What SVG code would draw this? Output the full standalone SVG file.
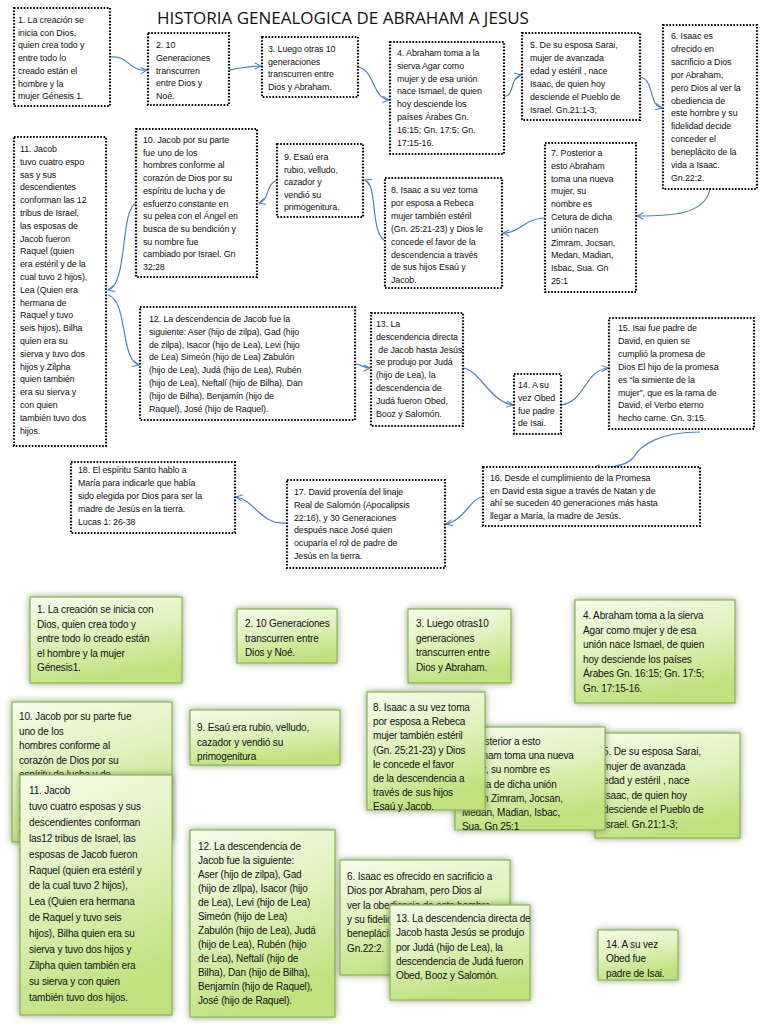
<svg xmlns="http://www.w3.org/2000/svg" width="768" height="1024" viewBox="0 0 768 1024">
<defs>
<style>
.d{fill:#fff;stroke:#000;stroke-width:2.2;stroke-dasharray:1.6 1.6}
.t{font-family:"Liberation Sans",Arial,sans-serif;font-size:8.9px;fill:#111;letter-spacing:-0.1px}
.b{font-family:"Liberation Sans",Arial,sans-serif;font-size:10px;fill:#111;letter-spacing:-0.15px}
.g{fill:url(#gr);stroke:#8db35a;stroke-width:1.2;filter:url(#sh)}
.c path{fill:none;stroke:#4f81bd;stroke-width:1.2;marker-end:url(#ar)}
</style>
<linearGradient id="gr" x1="0" y1="0" x2="0.3" y2="1">
<stop offset="0" stop-color="#f6fcea"/><stop offset="0.5" stop-color="#e0f2bd"/><stop offset="1" stop-color="#bfe27f"/>
</linearGradient>
<filter id="sh" x="-20%" y="-20%" width="140%" height="140%">
<feDropShadow dx="0" dy="0" stdDeviation="3.5" flood-color="#5f7a40" flood-opacity="0.7"/>
</filter>
<marker id="ar" viewBox="0 0 10 10" refX="9" refY="5" markerWidth="8" markerHeight="8" orient="auto-start-reverse" markerUnits="userSpaceOnUse">
<path d="M1,1 L9,5 L1,9" fill="none" stroke="#4f81bd" stroke-width="1.3"/>
</marker>
</defs>
<rect width="768" height="1024" fill="#fff"/>
<text x="343" y="24" text-anchor="middle" font-family="'Open Sans','Liberation Sans',sans-serif" font-size="17" fill="#111">HISTORIA GENEALOGICA DE ABRAHAM A JESUS</text>

<g class="c">
<path d="M110,57 C130,55 128,72 147,70"/>
<path d="M229,70 C240,68 250,66 261,66"/>
<path d="M358,67 C375,70 372,98 389,100"/>
<path d="M504,97 C515,95 510,77 521,75"/>
<path d="M640,77 C655,80 648,105 662,108"/>
<path d="M710,189 C705,215 670,216 637,216"/>
<path d="M545,218 C525,218 520,233 503,233"/>
<path d="M384,240 C370,230 378,185 365,180"/>
<path d="M277,180 C265,185 270,200 259,203"/>
<path d="M136,203 C120,210 128,285 108,290"/>
<path d="M108,295 C128,300 120,360 139,365"/>
<path d="M355,364 C362,364 362,368 370,368"/>
<path d="M463,368 C480,370 490,402 513,405"/>
<path d="M561,405 C585,402 585,370 608,368"/>
<path d="M700,432 C660,432 640,445 633,458 C625,467 605,468 593,468"/>
<path d="M483,497 C470,498 465,520 446,524"/>
<path d="M287,523 C260,525 255,500 236,497"/>
</g>

<g id="n1"><rect class="d" x="14" y="8" width="96" height="98"/><text class="t"><tspan x="18" y="23">1. La creación se</tspan><tspan x="18" dy="12.7">inicia con Dios,</tspan><tspan x="18" dy="12.7">quien crea todo y</tspan><tspan x="18" dy="12.7">entre todo lo</tspan><tspan x="18" dy="12.7">creado están el</tspan><tspan x="18" dy="12.7">hombre y la</tspan><tspan x="18" dy="12.7">mujer Génesis 1.</tspan></text></g>
<g id="n2"><rect class="d" x="148" y="33" width="81" height="72"/><text class="t"><tspan x="156" y="48">2. 10</tspan><tspan x="156" dy="12.8">Generaciones</tspan><tspan x="156" dy="12.8">transcurren</tspan><tspan x="156" dy="12.8">entre Dios y</tspan><tspan x="156" dy="12.8">Noé.</tspan></text></g>
<g id="n3"><rect class="d" x="262" y="37" width="96" height="60"/><text class="t"><tspan x="268" y="52">3. Luego otras 10</tspan><tspan x="268" dy="12.6">generaciones</tspan><tspan x="268" dy="12.6">transcurren entre</tspan><tspan x="268" dy="12.6">Dios y Abraham.</tspan></text></g>
<g id="n4"><rect class="d" x="390" y="42" width="114" height="112"/><text class="t"><tspan x="397" y="56">4. Abraham toma a la</tspan><tspan x="397" dy="12.8">sierva Agar como</tspan><tspan x="397" dy="12.8">mujer y de esa unión</tspan><tspan x="397" dy="12.8">nace Ismael, de quien</tspan><tspan x="397" dy="12.8">hoy desciende los</tspan><tspan x="397" dy="12.8">países Árabes Gn.</tspan><tspan x="397" dy="12.8">16:15; Gn. 17:5; Gn.</tspan><tspan x="397" dy="12.8">17:15-16.</tspan></text></g>
<g id="n5"><rect class="d" x="522" y="33" width="118" height="87"/><text class="t"><tspan x="530" y="48">5. De su esposa Sarai,</tspan><tspan x="530" dy="13">mujer de avanzada</tspan><tspan x="530" dy="13">edad y estéril , nace</tspan><tspan x="530" dy="13">Isaac, de quien hoy</tspan><tspan x="530" dy="13">desciende el Pueblo de</tspan><tspan x="530" dy="13">Israel. Gn.21:1-3;</tspan></text></g>
<g id="n6"><rect class="d" x="663" y="25" width="94" height="164"/><text class="t"><tspan x="671" y="39">6. Isaac es</tspan><tspan x="671" dy="12.9">ofrecido en</tspan><tspan x="671" dy="12.9">sacrificio a Dios</tspan><tspan x="671" dy="12.9">por Abraham,</tspan><tspan x="671" dy="12.9">pero Dios al ver la</tspan><tspan x="671" dy="12.9">obediencia de</tspan><tspan x="671" dy="12.9">este hombre y su</tspan><tspan x="671" dy="12.9">fidelidad decide</tspan><tspan x="671" dy="12.9">conceder el</tspan><tspan x="671" dy="12.9">beneplácito de la</tspan><tspan x="671" dy="12.9">vida a Isaac.</tspan><tspan x="671" dy="12.9">Gn.22:2.</tspan></text></g>
<g id="n7"><rect class="d" x="545" y="143" width="91" height="149"/><text class="t"><tspan x="551" y="156">7. Posterior a</tspan><tspan x="551" dy="12.8">esto Abraham</tspan><tspan x="551" dy="12.8">toma una nueva</tspan><tspan x="551" dy="12.8">mujer, su</tspan><tspan x="551" dy="12.8">nombre es</tspan><tspan x="551" dy="12.8">Cetura de dicha</tspan><tspan x="551" dy="12.8">unión nacen</tspan><tspan x="551" dy="12.8">Zimram, Jocsan,</tspan><tspan x="551" dy="12.8">Medan, Madian,</tspan><tspan x="551" dy="12.8">Isbac, Sua. Gn</tspan><tspan x="551" dy="12.8">25:1</tspan></text></g>
<g id="n8"><rect class="d" x="385" y="178" width="117" height="110"/><text class="t"><tspan x="391" y="193">8. Isaac a su vez toma</tspan><tspan x="391" dy="12.9">por esposa a Rebeca</tspan><tspan x="391" dy="12.9">mujer también estéril</tspan><tspan x="391" dy="12.9">(Gn. 25:21-23) y Dios le</tspan><tspan x="391" dy="12.9">concede el favor de la</tspan><tspan x="391" dy="12.9">descendencia a través</tspan><tspan x="391" dy="12.9">de sus hijos Esaú y</tspan><tspan x="391" dy="12.9">Jacob.</tspan></text></g>
<g id="n9"><rect class="d" x="277" y="144" width="86" height="73"/><text class="t"><tspan x="284" y="160">9. Esaú era</tspan><tspan x="284" dy="12.6">rubio, velludo,</tspan><tspan x="284" dy="12.6">cazador y</tspan><tspan x="284" dy="12.6">vendió su</tspan><tspan x="284" dy="12.6">primogenitura.</tspan></text></g>
<g id="n10"><rect class="d" x="136" y="129" width="121" height="148"/><text class="t"><tspan x="143" y="143">10. Jacob por su parte</tspan><tspan x="143" dy="12.7">fue uno de los</tspan><tspan x="143" dy="12.7">hombres conforme al</tspan><tspan x="143" dy="12.7">corazón de Dios por su</tspan><tspan x="143" dy="12.7">espíritu de lucha y de</tspan><tspan x="143" dy="12.7">esfuerzo constante en</tspan><tspan x="143" dy="12.7">su pelea con el Ángel en</tspan><tspan x="143" dy="12.7">busca de su bendición y</tspan><tspan x="143" dy="12.7">su nombre fue</tspan><tspan x="143" dy="12.7">cambiado por Israel. Gn</tspan><tspan x="143" dy="12.7">32:28</tspan></text></g>
<g id="n11"><rect class="d" x="14" y="137" width="92" height="309"/><text class="t"><tspan x="20" y="152">11. Jacob</tspan><tspan x="20" dy="12.8">tuvo cuatro espo</tspan><tspan x="20" dy="12.8">sas y sus</tspan><tspan x="20" dy="12.8">descendientes</tspan><tspan x="20" dy="12.8">conforman las 12</tspan><tspan x="20" dy="12.8">tribus de Israel,</tspan><tspan x="20" dy="12.8">las esposas de</tspan><tspan x="20" dy="12.8">Jacob fueron</tspan><tspan x="20" dy="12.8">Raquel (quien</tspan><tspan x="20" dy="12.8">era estéril y de la</tspan><tspan x="20" dy="12.8">cual tuvo 2 hijos),</tspan><tspan x="20" dy="12.8">Lea (Quien era</tspan><tspan x="20" dy="12.8">hermana de</tspan><tspan x="20" dy="12.8">Raquel y tuvo</tspan><tspan x="20" dy="12.8">seis hijos), Bilha</tspan><tspan x="20" dy="12.8">quien era su</tspan><tspan x="20" dy="12.8">sierva y tuvo dos</tspan><tspan x="20" dy="12.8">hijos y Zilpha</tspan><tspan x="20" dy="12.8">quien también</tspan><tspan x="20" dy="12.8">era su sierva y</tspan><tspan x="20" dy="12.8">con quien</tspan><tspan x="20" dy="12.8">también tuvo dos</tspan><tspan x="20" dy="12.8">hijos.</tspan></text></g>
<g id="n12"><rect class="d" x="140" y="307" width="215" height="113"/><text class="t"><tspan x="149" y="322">12. La descendencia de Jacob fue la</tspan><tspan x="149" dy="12.8">siguiente: Aser (hijo de zilpa), Gad (hijo</tspan><tspan x="149" dy="12.8">de zilpa), Isacor (hijo de Lea), Levi (hijo</tspan><tspan x="149" dy="12.8">de Lea) Simeón (hijo de Lea) Zabulón</tspan><tspan x="149" dy="12.8">(hijo de Lea), Judá (hijo de Lea), Rubén</tspan><tspan x="149" dy="12.8">(hijo de Lea), Neftalí (hijo de Bilha), Dan</tspan><tspan x="149" dy="12.8">(hijo de Bilha), Benjamín (hijo de</tspan><tspan x="149" dy="12.8">Raquel), José (hijo de Raquel).</tspan></text></g>
<g id="n13"><rect class="d" x="371" y="313" width="92" height="113"/><text class="t"><tspan x="376" y="327">13. La</tspan><tspan x="376" dy="12.8">descendencia directa</tspan><tspan x="376" dy="12.8"> de Jacob hasta Jesús</tspan><tspan x="376" dy="12.8">se produjo por Judá</tspan><tspan x="376" dy="12.8">(hijo de Lea), la</tspan><tspan x="376" dy="12.8">descendencia de</tspan><tspan x="376" dy="12.8">Judá fueron Obed,</tspan><tspan x="376" dy="12.8">Booz y Salomón.</tspan></text></g>
<g id="n14"><rect class="d" x="514" y="374" width="47" height="60"/><text class="t"><tspan x="518" y="388">14. A su</tspan><tspan x="518" dy="12.8">vez Obed</tspan><tspan x="518" dy="12.8">fue padre</tspan><tspan x="518" dy="12.8">de Isai.</tspan></text></g>
<g id="n15"><rect class="d" x="609" y="318" width="145" height="111"/><text class="t"><tspan x="618" y="331">15. Isai fue padre de</tspan><tspan x="618" dy="12.9">David, en quien se</tspan><tspan x="618" dy="12.9">cumplió la promesa de</tspan><tspan x="618" dy="12.9">Dios El hijo de la promesa</tspan><tspan x="618" dy="12.9">es “la simiente de la</tspan><tspan x="618" dy="12.9">mujer”, que es la rama de</tspan><tspan x="618" dy="12.9">David, el Verbo eterno</tspan><tspan x="618" dy="12.9">hecho carne. Gn. 3:15.</tspan></text></g>
<g id="n16"><rect class="d" x="483" y="467" width="217" height="59"/><text class="t"><tspan x="490" y="481">16. Desde el cumplimiento de la Promesa</tspan><tspan x="490" dy="12.7">en David esta sigue a través de Natan y de</tspan><tspan x="490" dy="12.7">ahí se suceden 40 generaciones más hasta</tspan><tspan x="490" dy="12.7">llegar a María, la madre de Jesús.</tspan></text></g>
<g id="n17"><rect class="d" x="287" y="480" width="158" height="88"/><text class="t"><tspan x="294" y="495">17. David provenía del linaje</tspan><tspan x="294" dy="12.8">Real de Salomón (Apocalipsis</tspan><tspan x="294" dy="12.8">22:16), y 30 Generaciones</tspan><tspan x="294" dy="12.8">después nace José quien</tspan><tspan x="294" dy="12.8">ocuparía el rol de padre de</tspan><tspan x="294" dy="12.8">Jesús en la tierra.</tspan></text></g>
<g id="n18"><rect class="d" x="71" y="462" width="164" height="71"/><text class="t"><tspan x="78" y="473">18. El espíritu Santo hablo a</tspan><tspan x="78" dy="13">María para indicarle que había</tspan><tspan x="78" dy="13">sido elegida por Dios para ser la</tspan><tspan x="78" dy="13">madre de Jesús en la tierra.</tspan><tspan x="78" dy="13">Lucas 1: 26-38</tspan></text></g>

<g id="g1"><rect class="g" x="30" y="597" width="152" height="86"/><text class="b"><tspan x="37" y="613">1. La creación se inicia con</tspan><tspan x="37" dy="14.5">Dios, quien crea todo y</tspan><tspan x="37" dy="14.5">entre todo lo creado están</tspan><tspan x="37" dy="14.5">el hombre y la mujer</tspan><tspan x="37" dy="14.5">Génesis1.</tspan></text></g>
<g id="g2"><rect class="g" x="237" y="609" width="100" height="54"/><text class="b"><tspan x="245" y="627">2. 10 Generaciones</tspan><tspan x="245" dy="14.5">transcurren entre</tspan><tspan x="245" dy="14.5">Dios y Noé.</tspan></text></g>
<g id="g3"><rect class="g" x="408" y="609" width="103" height="74"/><text class="b"><tspan x="416" y="627">3. Luego otras10</tspan><tspan x="416" dy="14.5">generaciones</tspan><tspan x="416" dy="14.5">transcurren entre</tspan><tspan x="416" dy="14.5">Dios y Abraham.</tspan></text></g>
<g id="g4"><rect class="g" x="575" y="600" width="160" height="103"/><text class="b"><tspan x="583" y="619">4. Abraham toma a la sierva</tspan><tspan x="583" dy="14.5">Agar como mujer y de esa</tspan><tspan x="583" dy="14.5">unión nace Ismael, de quien</tspan><tspan x="583" dy="14.5">hoy desciende los países</tspan><tspan x="583" dy="14.5">Árabes Gn. 16:15; Gn. 17:5;</tspan><tspan x="583" dy="14.5">Gn. 17:15-16.</tspan></text></g>
<g id="g10"><rect class="g" x="12" y="702" width="160" height="140"/><text class="b"><tspan x="19" y="720">10. Jacob por su parte fue</tspan><tspan x="19" dy="14.6">uno de los</tspan><tspan x="19" dy="14.6">hombres conforme al</tspan><tspan x="19" dy="14.6">corazón de Dios por su</tspan><tspan x="19" dy="14.6">espíritu de lucha y de</tspan><tspan x="19" dy="14.6">esfuerzo constante en su</tspan><tspan x="19" dy="14.6">pelea con el Ángel en busca</tspan><tspan x="19" dy="14.6">de su bendición y su nombre</tspan><tspan x="19" dy="14.6">fue cambiado por Israel. Gn</tspan><tspan x="19" dy="14.6">32:28</tspan></text></g>
<g id="g9"><rect class="g" x="190" y="710" width="150" height="55"/><text class="b"><tspan x="197" y="731">9. Esaú era rubio, velludo,</tspan><tspan x="197" dy="14.5">cazador y vendió su</tspan><tspan x="197" dy="14.5">primogenitura</tspan></text></g>
<g id="g5"><rect class="g" x="595" y="733" width="145" height="105"/><text class="b"><tspan x="603" y="755">5. De su esposa Sarai,</tspan><tspan x="603" dy="14.5">mujer de avanzada</tspan><tspan x="603" dy="14.5">edad y estéril , nace</tspan><tspan x="603" dy="14.5">Isaac, de quien hoy</tspan><tspan x="603" dy="14.5">desciende el Pueblo de</tspan><tspan x="603" dy="14.5">Israel. Gn.21:1-3;</tspan></text></g>
<g id="g7"><rect class="g" x="455" y="727" width="150" height="103"/><text class="b"><tspan x="462" y="745">7. Posterior a esto</tspan><tspan x="462" dy="14.2">Abraham toma una nueva</tspan><tspan x="462" dy="14.2">mujer, su nombre es</tspan><tspan x="462" dy="14.2">Cetura de dicha unión</tspan><tspan x="462" dy="14.2">nacen Zimram, Jocsan,</tspan><tspan x="462" dy="14.2">Medan, Madian, Isbac,</tspan><tspan x="462" dy="14.2">Sua. Gn 25:1</tspan></text></g>
<g id="g8"><rect class="g" x="367" y="692" width="118" height="118"/><text class="b"><tspan x="373" y="711">8. Isaac a su vez toma</tspan><tspan x="373" dy="14.2">por esposa a Rebeca</tspan><tspan x="373" dy="14.2">mujer también estéril</tspan><tspan x="373" dy="14.2">(Gn. 25:21-23) y Dios</tspan><tspan x="373" dy="14.2">le concede el favor</tspan><tspan x="373" dy="14.2">de la descendencia a</tspan><tspan x="373" dy="14.2">través de sus hijos</tspan><tspan x="373" dy="14.2">Esaú y Jacob.</tspan></text></g>
<g id="g11"><rect class="g" x="20" y="775" width="152" height="240"/><text class="b"><tspan x="29" y="794">11. Jacob</tspan><tspan x="29" dy="15.9">tuvo cuatro esposas y sus</tspan><tspan x="29" dy="15.9">descendientes conforman</tspan><tspan x="29" dy="15.9">las12 tribus de Israel, las</tspan><tspan x="29" dy="15.9">esposas de Jacob fueron</tspan><tspan x="29" dy="15.9">Raquel (quien era estéril y</tspan><tspan x="29" dy="15.9">de la cual tuvo 2 hijos),</tspan><tspan x="29" dy="15.9">Lea (Quien era hermana</tspan><tspan x="29" dy="15.9">de Raquel y tuvo seis</tspan><tspan x="29" dy="15.9">hijos), Bilha quien era su</tspan><tspan x="29" dy="15.9">sierva y tuvo dos hijos y</tspan><tspan x="29" dy="15.9">Zilpha quien también era</tspan><tspan x="29" dy="15.9">su sierva y con quien</tspan><tspan x="29" dy="15.9">también tuvo dos hijos.</tspan></text></g>
<g id="g12"><rect class="g" x="190" y="830" width="145" height="187"/><text class="b"><tspan x="198" y="850">12. La descendencia de</tspan><tspan x="198" dy="14">Jacob fue la siguiente:</tspan><tspan x="198" dy="14">Aser (hijo de zilpa), Gad</tspan><tspan x="198" dy="14">(hijo de zllpa), Isacor (hijo</tspan><tspan x="198" dy="14">de Lea), Levi (hijo de Lea)</tspan><tspan x="198" dy="14">Simeón (hijo de Lea)</tspan><tspan x="198" dy="14">Zabulón (hijo de Lea), Judá</tspan><tspan x="198" dy="14">(hijo de Lea), Rubén (hijo</tspan><tspan x="198" dy="14">de Lea), Neftalí (hijo de</tspan><tspan x="198" dy="14">Bilha), Dan (hijo de Bilha),</tspan><tspan x="198" dy="14">Benjamín (hijo de Raquel),</tspan><tspan x="198" dy="14">José (hijo de Raquel).</tspan></text></g>
<g id="g6"><rect class="g" x="340" y="860" width="170" height="115"/><text class="b"><tspan x="347" y="880">6. Isaac es ofrecido en sacrificio a</tspan><tspan x="347" dy="14.3">Dios por Abraham, pero Dios al</tspan><tspan x="347" dy="14.3">ver la obediencia de este hombre</tspan><tspan x="347" dy="14.3">y su fidelidad decide conceder el</tspan><tspan x="347" dy="14.3">beneplácito de la vida a Isaac.</tspan><tspan x="347" dy="14.3">Gn.22:2.</tspan></text></g>
<g id="g13"><rect class="g" x="390" y="905" width="140" height="95"/><text class="b"><tspan x="396" y="922">13. La descendencia directa de</tspan><tspan x="396" dy="14.3">Jacob hasta Jesús se produjo</tspan><tspan x="396" dy="14.3">por Judá (hijo de Lea), la</tspan><tspan x="396" dy="14.3">descendencia de Judá fueron</tspan><tspan x="396" dy="14.3">Obed, Booz y Salomón.</tspan></text></g>
<g id="g14"><rect class="g" x="598" y="930" width="80" height="50"/><text class="b"><tspan x="606" y="948">14. A su vez</tspan><tspan x="606" dy="14.3">Obed fue</tspan><tspan x="606" dy="14.3">padre de Isai.</tspan></text></g>
</svg>
